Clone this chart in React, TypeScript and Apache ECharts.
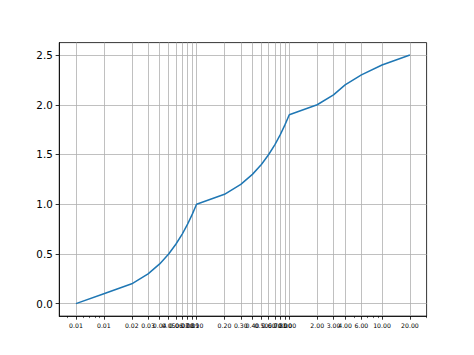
import React, { useEffect, useRef } from 'react';
import * as echarts from 'echarts';

const xValues = [0.005, 0.01, 0.02, 0.03, 0.04, 0.05, 0.06, 0.07, 0.08, 0.09, 0.1, 0.2, 0.3, 0.4, 0.5, 0.6, 0.7, 0.8, 0.9, 1, 2, 3, 4, 6, 10, 20];
const yValues = [0.0, 0.1, 0.2, 0.3, 0.4, 0.5, 0.6, 0.7, 0.8, 0.9, 1.0, 1.1, 1.2, 1.3, 1.4, 1.5, 1.6, 1.7, 1.8, 1.9, 2.0, 2.1, 2.2, 2.3, 2.4, 2.5];
const xTicks = [0.005, 0.01, 0.02, 0.03, 0.04, 0.05, 0.06, 0.07, 0.08, 0.09, 0.1, 0.2, 0.3, 0.4, 0.5, 0.6, 0.7, 0.8, 0.9, 1, 2, 3, 4, 6, 10, 20];
const xTickLabels = ['0.01', '0.01', '0.02', '0.03', '0.04', '0.05', '0.06', '0.07', '0.08', '0.09', '0.10', '0.20', '0.30', '0.40', '0.50', '0.60', '0.70', '0.80', '0.90', '1.00', '2.00', '3.00', '4.00', '6.00', '10.00', '20.00'];
const xMinorTicks = [0.004, 0.006, 0.007, 0.008, 0.009, 5, 7, 8, 9, 30];
const yTicks = [0.0, 0.5, 1.0, 1.5, 2.0, 2.5];
const yTickLabels = ['0.0', '0.5', '1.0', '1.5', '2.0', '2.5'];

export default function App() {
  const ref = useRef<HTMLDivElement>(null);
  useEffect(() => {
    if (!ref.current) return;
    const chart = echarts.init(ref.current, undefined, { renderer: 'svg' });
    const lx = (v: number) => Math.log10(v);
    const lmin = lx(xValues[0]);
    const lmax = lx(xValues[xValues.length - 1]);
    const pad = (lmax - lmin) * 0.05;
    const xMin = lmin - pad;
    const xMax = lmax + pad;
    const yMin = -0.125;
    const yMax = 2.625;
    const font = 'DejaVu Sans';
    const majorX = xTicks.map(lx);
    const minorX = xMinorTicks.map(lx);
    const labelFor = (v: number) => {
      let best = 0;
      let bd = Infinity;
      majorX.forEach((t, i) => {
        const d = Math.abs(t - v);
        if (d < bd) { bd = d; best = i; }
      });
      return bd < 1e-6 ? xTickLabels[best] : '';
    };
    const yLabelFor = (v: number) => {
      const i = yTicks.findIndex((t) => Math.abs(t - v) < 1e-9);
      return i >= 0 ? yTickLabels[i] : '';
    };
    chart.setOption({
      animation: false,
      grid: {
        left: 59.25,
        right: 47.4,
        top: 42.6,
        bottom: 38.9,
        show: true,
        borderColor: '#000',
        borderWidth: 0.8,
        backgroundColor: 'transparent',
      },
      xAxis: [
        {
          type: 'value',
          min: xMin,
          max: xMax,
          axisLine: { show: true, onZero: false, lineStyle: { color: '#000', width: 0.8 } },
          axisTick: {
            show: true,
            inside: false,
            length: 3.6,
            lineStyle: { color: '#000', width: 0.8 },
            customValues: majorX,
          },
          axisLabel: {
            show: true,
            margin: 6.5,
            color: '#000',
            fontSize: 6.2,
            fontFamily: font,
            customValues: majorX,
            formatter: (v: number) => labelFor(v),
          },
          splitLine: { show: true, lineStyle: { color: '#b0b0b0', width: 0.8 } },
        },
        {
          type: 'value',
          min: xMin,
          max: xMax,
          position: 'bottom',
          axisLine: { show: false, onZero: false },
          axisTick: {
            show: true,
            inside: false,
            length: 2,
            lineStyle: { color: '#000', width: 0.6 },
            customValues: minorX,
          },
          axisLabel: { show: false },
          splitLine: { show: false },
        },
      ],
      yAxis: {
        type: 'value',
        min: yMin,
        max: yMax,
        axisLine: { show: true, onZero: false, lineStyle: { color: '#000', width: 0.8 } },
        axisTick: {
          show: true,
          inside: false,
          length: 3.6,
          lineStyle: { color: '#000', width: 0.8 },
          customValues: yTicks,
        },
        axisLabel: {
          show: true,
          margin: 6.5,
          color: '#000',
          fontSize: 10.3,
          fontFamily: font,
          customValues: yTicks,
          formatter: (v: number) => yLabelFor(v),
        },
        splitLine: { show: true, lineStyle: { color: '#b0b0b0', width: 0.8 } },
      },
      series: [
        {
          type: 'line',
          xAxisIndex: 0,
          data: xValues.map((x, i) => [lx(x), yValues[i]]),
          showSymbol: false,
          symbol: 'none',
          lineStyle: { color: '#1f77b4', width: 1.5 },
        },
      ],
    });
    return () => chart.dispose();
  }, []);
  return (
    <div
      ref={ref}
      style={{ position: 'fixed', left: 0, top: 0, width: 474, height: 355, background: '#fff' }}
    />
  );
}
